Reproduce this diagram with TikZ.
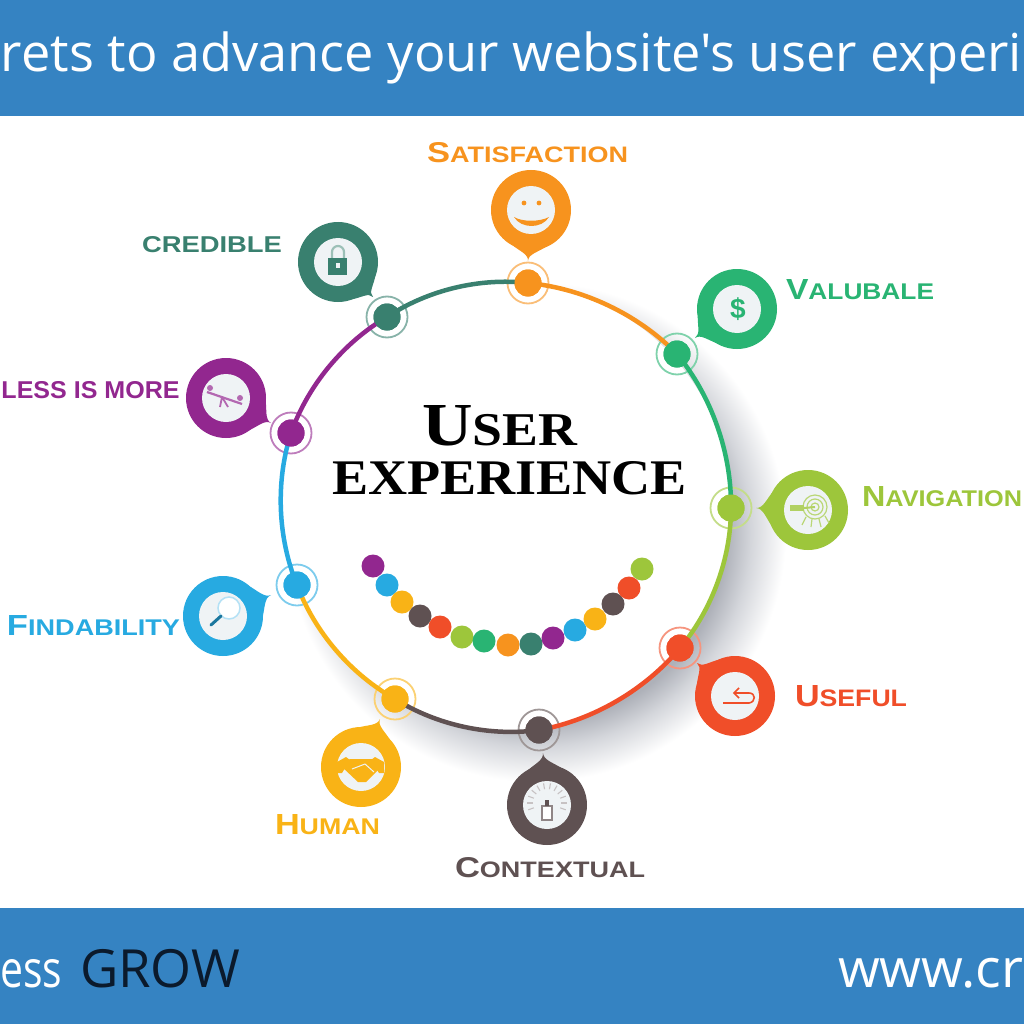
\documentclass[tikz,border=0pt]{standalone}
\usepackage{fontspec}
\usetikzlibrary{calc}
\newfontfamily\titlefont{Open Sans}
\newfontfamily\labfont{Liberation Sans}[BoldFont={Liberation Sans Bold}]
\newfontfamily\headfont{Liberation Serif}[BoldFont={Liberation Serif Bold}]
\definecolor{band}{HTML}{3583C2}
\definecolor{corange}{HTML}{F7931E}
\definecolor{cgreen}{HTML}{29B473}
\definecolor{clime}{HTML}{9DC63B}
\definecolor{cred}{HTML}{F04E29}
\definecolor{cbrown}{HTML}{5F5152}
\definecolor{cyellow}{HTML}{F9B316}
\definecolor{cblue}{HTML}{27AAE1}
\definecolor{cpurple}{HTML}{92278F}
\definecolor{cteal}{HTML}{39806F}
\definecolor{inner}{HTML}{EFF3F5}
\definecolor{darktext}{HTML}{0B1A2C}
\definecolor{shadowa}{HTML}{AEB1B9}
\definecolor{shadowb}{HTML}{D4D6DB}
\definecolor{shadowc}{HTML}{FFFFFF}
\pgfdeclareradialshading{softshadow}{\pgfpointorigin}{
  color(0bp)=(shadowa);
  color(19bp)=(shadowa);
  color(21.5bp)=(shadowb);
  color(25bp)=(shadowc);
  color(50bp)=(shadowc)}
\tikzset{
  pinbody/.style={circle,minimum size=80pt,inner sep=0,outer sep=0},
  pininner/.style={circle,fill=inner,minimum size=48pt,inner sep=0,outer sep=0},
  dotbody/.style={circle,minimum size=27pt,inner sep=0,outer sep=0},
  ringbody/.style={circle,minimum size=41pt,inner sep=0,outer sep=0,line width=1.8pt},
  bead/.style={circle,minimum size=23pt,inner sep=0,outer sep=0},
  seg/.style={line width=4.5pt,bend left=20,looseness=.86},
  lab/.style={inner sep=0,outer sep=0},
  bandtext/.style={inner sep=0,outer sep=0,anchor=base west}
}
\newcommand\bg[1]{{\fontsize{12.8}{13}\selectfont #1}}
\newcommand\lbl[7]{\node[lab,anchor=west,text=#6] (#1) at (#2,#3) {\resizebox{#4pt}{#5pt}{\fontsize{10}{12}\selectfont\labfont\bfseries #7}};}
% name, x, y, angle, tipx, tipy, colour
\newcommand\pin[7]{%
  \coordinate (#1tip) at (#5,#6);
  \coordinate (#1c) at (#2,#3);
  \fill[#7] ($(#1c)+(#4+27:39.5)$) .. controls ($(#1c)+(#4+12:43)$) and ($(#1tip)!.14!(#1c)$) .. (#1tip)
     .. controls ($(#1tip)!.14!(#1c)$) and ($(#1c)+(#4-12:43)$) .. ($(#1c)+(#4-27:39.5)$) -- cycle;
  \node[pinbody,fill=#7] (#1pin) at (#1c) {};
  \node[pininner] (#1in) at (#1c) {};
}
\newcommand\stn[4]{%
  \node[ringbody,draw=#4!60] (#1ring) at (#2,#3) {};
}
\newcommand\stndot[4]{\node[dotbody,fill=#4] (#1) at (#2,#3) {};}
\begin{document}
\begin{tikzpicture}[x=1pt,y=-1pt]
\useasboundingbox (0,0) rectangle (1024,1024);
\fill[white] (0,0) rectangle (1024,1024);
% bands
\fill[band] (0,0) rectangle (1024,116);
\fill[band] (0,908) rectangle (1024,1024);
\begin{scope}
\clip (0,0) rectangle (1024,1024);
\node[bandtext,text=white] (title) at (1,72) {\resizebox{1021pt}{!}{\fontsize{54}{60}\selectfont\titlefont rets to advance your website's user experi}};
\node[bandtext,text=white] (footl) at (0.5,987) {\resizebox{62pt}{28pt}{\fontsize{52}{60}\selectfont\titlefont ess}};
\node[bandtext,text=darktext] (footm) at (80,987) {\resizebox{160pt}{!}{\fontsize{52}{60}\selectfont\titlefont GROW}};
\node[bandtext,text=white] (footr) at (838,987) {\resizebox{185pt}{!}{\fontsize{52}{60}\selectfont\titlefont www.cr}};
% shadow
\shade[shading=softshadow] (536,532) circle (250);
\fill[white] (507,507) circle (224);
% rings
\stn{sat}{528}{283}{corange}
\stn{val}{677}{354}{cgreen}
\stn{nav}{731}{508}{clime}
\stn{use}{680}{648}{cred}
\stn{con}{539}{730}{cbrown}
\stn{hum}{395}{699}{cyellow}
\stn{fin}{297}{585}{cblue}
\stn{les}{291}{433}{cpurple}
\stn{cre}{387}{317}{cteal}
% station dots
\stndot{sat}{528}{283}{corange}
\stndot{val}{677}{354}{cgreen}
\stndot{nav}{731}{508}{clime}
\stndot{use}{680}{648}{cred}
\stndot{con}{539}{730}{cbrown}
\stndot{hum}{395}{699}{cyellow}
\stndot{fin}{297}{585}{cblue}
\stndot{les}{291}{433}{cpurple}
\stndot{cre}{387}{317}{cteal}
% ring segments
\draw[seg,corange] (sat.center) to (val.center);
\draw[seg,cgreen] (val.center) to (nav.center);
\draw[seg,clime] (nav.center) to (use.center);
\draw[seg,cred] (use.center) to (con.center);
\draw[seg,cbrown] (con.center) to (hum.center);
\draw[seg,cyellow] (hum.center) to (fin.center);
\draw[seg,cblue] (fin.center) to (les.center);
\draw[seg,cpurple] (les.center) to (cre.center);
\draw[seg,cteal] (cre.center) to (sat.center);
\stndot{satd}{528}{283}{corange}
\stndot{vald}{677}{354}{cgreen}
\stndot{navd}{731}{508}{clime}
\stndot{used}{680}{648}{cred}
\stndot{cond}{539}{730}{cbrown}
\stndot{humd}{395}{699}{cyellow}
\stndot{find}{297}{585}{cblue}
\stndot{lesd}{291}{433}{cpurple}
\stndot{cred}{387}{317}{cteal}
% pins
\pin{psat}{531}{210}{93}{528}{261}{corange}
\pin{pval}{737}{309}{146}{695}{338}{cgreen}
\pin{pnav}{808}{510}{182}{756}{508}{clime}
\pin{puse}{735}{696}{221}{697}{663}{cred}
\pin{pcon}{547}{805}{266}{543}{753}{cbrown}
\pin{phum}{361}{767}{292}{380}{719}{cyellow}
\pin{pfin}{223}{616}{336}{271}{595}{cblue}
\pin{ples}{226}{398}{29}{271}{423}{cpurple}
\pin{pcre}{338}{262}{45}{373}{297}{cteal}
% icon: smile
\fill[corange] (524,203) circle (2.4) (539,203) circle (2.4);
\fill[corange] (514,217) .. controls (522,222) and (540,222) .. (549,217) .. controls (542,229) and (521,229) .. (514,217) -- cycle;
% icon: dollar
\node[inner sep=0,text=cgreen] (dollar) at (738,309) {\fontsize{28}{30}\selectfont\labfont\bfseries \$};
% icon: target
\begin{scope}[clime!70!white,line width=1.2pt]
\draw (815,507) circle (4) (815,507) circle (8) (815,507) circle (12);
\draw (806,517) -- (802,525) (812,519) -- (811,527) (819,519) -- (821,527) (825,516) -- (829,523);
\end{scope}
\fill[clime!80!white] (790,505) rectangle (804,511);
\draw[clime!80!white,line width=2pt] (804,508) -- (815,507);
% icon: return
\draw[cred,line width=1.6pt] (723,703) -- (749,703) .. controls (756,702) and (756,693) .. (749,693) -- (734,693);
\draw[cred,line width=1.6pt] (739,688) -- (734,693) -- (739,698);
% icon: bulb
\foreach \a in {180,200,...,360,0}{\draw[cbrown!35,line width=1.1pt] ($(547,803)+(\a:14)$) -- ($(547,803)+(\a:20)$);}
\foreach \a in {20,160}{\draw[cbrown!35,line width=1.1pt] ($(547,803)+(\a:14)$) -- ($(547,803)+(\a:20)$);}
\draw[cbrown!70,line width=1.3pt,fill=white] (542,806) rectangle (552,820);
\fill[cbrown] (545,800) rectangle (549,806);
% icon: handshake
\fill[cyellow] (341,766) -- (350,759) -- (372,759) -- (381,767) -- (366,782) -- (358,782) -- cycle;
\fill[cyellow] (337,773) -- (337,762) -- (346,757) -- (350,760) -- (342,773) -- cycle;
\fill[cyellow] (384,773) -- (384,762) -- (375,757) -- (371,760) -- (379,773) -- cycle;
\draw[inner,line width=1pt] (352,769) -- (365,764) -- (374,772);
% icon: magnifier
\draw[cblue!35,line width=1.5pt,fill=white] (229,608) circle (11);
\draw[cblue!70!black,line width=3pt,line cap=round] (211,625) -- (221,616);
% icon: seesaw
\draw[cpurple!70,line width=2.2pt] (207,392) -- (242,404);
\draw[cpurple!70,line width=1.8pt] (222,397) -- (220,407) (222,397) -- (228,407);
\fill[cpurple!70] (210,388) circle (3) (240,398) circle (3);
% icon: lock
\draw[cteal!50,line width=2.2pt] (332,259) -- (332,252) arc[start angle=180,end angle=360,radius=6] -- (344,259);
\fill[cteal] (328,258) rectangle (347,275);
\fill[inner] (336,263) rectangle (340,268);
% beads
\foreach \n/\x/\y/\c in {1/373/566/cpurple,2/387/585/cblue,3/402/602/cyellow,4/420/616/cbrown,5/440/627/cred,6/462/637/clime,7/484/641/cgreen,8/508/645/corange,9/531/644/cteal,10/553/638/cpurple,11/575/630/cblue,12/595/619/cyellow,13/613/604/cbrown,14/629/588/cred,15/642/569/clime}
  \node[bead,fill=\c] (bead\n) at (\x,\y) {};
% headings
\node[lab,anchor=west] (huser) at (422,426) {\resizebox{155pt}{40pt}{\fontsize{10}{12}\selectfont\headfont\bfseries {\fontsize{13}{13}\selectfont U}SER}};
\node[lab,anchor=west] (hexp) at (332,478.5) {\resizebox{355pt}{33pt}{\fontsize{10}{12}\selectfont\headfont\bfseries EXPERIENCE}};
% labels
\lbl{lsat}{427}{153}{201}{20}{corange}{\bg{S}ATISFACTION}
\lbl{lcre}{142}{245}{140}{16}{cteal}{CREDIBLE}
\lbl{lval}{786}{290}{148}{20}{cgreen}{\bg{V}ALUBALE}
\lbl{lnav}{862}{497}{160}{20}{clime}{\bg{N}AVIGATION}
\lbl{luse}{795}{696}{112}{21}{cred}{\bg{U}SEFUL}
\lbl{lcon}{455}{868}{190}{20}{cbrown}{\bg{C}ONTEXTUAL}
\lbl{lhum}{275}{825}{105}{20}{cyellow}{\bg{H}UMAN}
\lbl{lfin}{7}{625}{173}{20}{cblue}{\bg{F}INDABILITY}
\lbl{lles}{1.5}{390}{178}{17}{cpurple}{LESS IS MORE}
\end{scope}
\end{tikzpicture}
\end{document}
